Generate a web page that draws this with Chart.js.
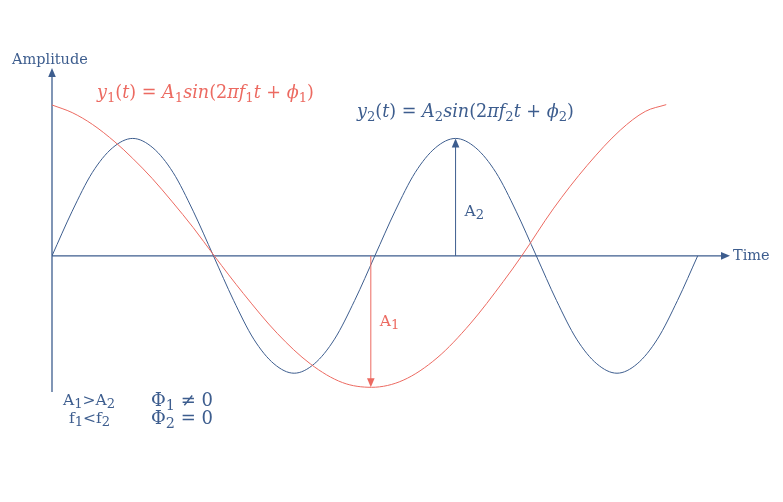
<!DOCTYPE html>
<html>
<head>
<meta charset="utf-8">
<title>Two sine waves</title>
<script src="https://cdn.jsdelivr.net/npm/chart.js@4/dist/chart.umd.min.js"></script>
<style>
  html, body { margin: 0; padding: 0; background: #fff; }
  #wrap { width: 783px; height: 502px; }
</style>
</head>
<body>
<div id="wrap"><canvas id="chartjsSine"></canvas></div>
<script>
'use strict';

// y2: blue wave, time in units where its period is 4
var blueT = [0, 0.25, 0.5, 0.75, 1, 1.25, 1.5, 1.75, 2, 2.25, 2.5, 2.75, 3, 3.25, 3.5, 3.75,
             4, 4.25, 4.5, 4.75, 5, 5.25, 5.5, 5.75, 6, 6.25, 6.5, 6.75, 7, 7.25, 7.5, 7.75, 8];
var blueY = [0, 0.38, 0.71, 0.92, 1, 0.92, 0.71, 0.38, 0, -0.38, -0.71, -0.92, -1, -0.92, -0.71, -0.38,
             0, 0.38, 0.71, 0.92, 1, 0.92, 0.71, 0.38, 0, -0.38, -0.71, -0.92, -1, -0.92, -0.71, -0.38, 0];

// y1: red wave
var redT = [0, 0.25, 0.5, 0.78, 1.0, 1.24, 1.49, 1.75, 2.01, 2.37, 2.79, 3.2, 3.6, 3.96,
            4.35, 4.77, 5.18, 5.59, 5.82, 6.21, 6.63, 7.04, 7.35, 7.61];
var redY = [1.285, 1.22, 1.12, 0.97, 0.83, 0.66, 0.46, 0.24, 0, -0.32, -0.66, -0.92, -1.08, -1.12,
            -1.06, -0.87, -0.58, -0.22, 0, 0.4, 0.77, 1.07, 1.23, 1.288];

// amplitude arrows: A1 (red trough), A2 (blue crest)
var markT = [3.95, 5];
var markY = [-1.12, 1];

// axis extent
var axisT = [0, 8.4];
var axisY = [-1.16, 1.6];

var BLUE = '#3d5d8e';
var RED = '#ec6a61';
var SERIF = '"DejaVu Serif", serif';

function pts(xs, ys) {
  return xs.map(function(x, i) { return { x: x, y: ys[i] }; });
}

function arrowHead(ctx, x, y, dx, dy, color) {
  // tip at (x,y), pointing along (dx,dy)
  var len = 9, half = 3.8;
  ctx.save();
  ctx.fillStyle = color;
  ctx.beginPath();
  ctx.moveTo(x, y);
  ctx.lineTo(x - dx * len - dy * half, y - dy * len + dx * half);
  ctx.lineTo(x - dx * len + dy * half, y - dy * len - dx * half);
  ctx.closePath();
  ctx.fill();
  ctx.restore();
}

function line(ctx, x1, y1, x2, y2, color, w) {
  ctx.save();
  ctx.strokeStyle = color;
  ctx.lineWidth = w;
  ctx.beginPath();
  ctx.moveTo(x1, y1);
  ctx.lineTo(x2, y2);
  ctx.stroke();
  ctx.restore();
}

// parts: [text, 'i' italic | 's' subscript | '' normal]
function rich(ctx, x, y, parts, size, color, subScale) {
  subScale = subScale || 0.75;
  ctx.save();
  ctx.fillStyle = color;
  ctx.textBaseline = 'alphabetic';
  ctx.textAlign = 'left';
  parts.forEach(function(p) {
    var sub = p[1].indexOf('s') >= 0;
    var ital = p[1].indexOf('i') >= 0;
    var fs = sub ? size * subScale : size;
    ctx.font = (ital ? 'italic ' : '') + fs + 'px ' + SERIF;
    ctx.fillText(p[0], x, sub ? y + size * 0.22 : y);
    x += ctx.measureText(p[0]).width;
  });
  ctx.restore();
  return x;
}

var eqParts = function(n) {
  return [['y', 'i'], [n, 's'], ['(', ''], ['t', 'i'], [')', ''], [' = ', ''],
          ['A', 'i'], [n, 's'], ['sin', 'i'], ['(2', ''], ['π', 'i'], ['f', 'i'], [n, 's'],
          ['t', 'i'], [' + ', ''], ['ϕ', 'i'], [n, 's'], [')', '']];
};

var decor = {
  id: 'decor',
  beforeDatasetsDraw: function(chart) {
    var ctx = chart.ctx, xs = chart.scales.x, ys = chart.scales.y;
    var x0 = xs.getPixelForValue(0), y0 = ys.getPixelForValue(0);
    var xEnd = xs.getPixelForValue(axisT[1]);
    var yTop = ys.getPixelForValue(axisY[1]), yBot = ys.getPixelForValue(axisY[0]);
    line(ctx, x0, yBot, x0, yTop + 4, BLUE, 1.3);
    arrowHead(ctx, x0, yTop, 0, -1, BLUE);
    line(ctx, x0, y0, xEnd - 4, y0, BLUE, 1.3);
    arrowHead(ctx, xEnd, y0, 1, 0, BLUE);
  },
  afterDatasetsDraw: function(chart) {
    var ctx = chart.ctx, xs = chart.scales.x, ys = chart.scales.y;
    var y0 = ys.getPixelForValue(0);
    // A1 arrow (red)
    var ax1 = xs.getPixelForValue(markT[0]), ay1 = ys.getPixelForValue(markY[0]);
    line(ctx, ax1, y0, ax1, ay1 - 4, RED, 1);
    arrowHead(ctx, ax1, ay1, 0, 1, RED);
    // A2 arrow (blue)
    var ax2 = xs.getPixelForValue(markT[1]), ay2 = ys.getPixelForValue(markY[1]);
    line(ctx, ax2, y0, ax2, ay2 + 4, BLUE, 1);
    arrowHead(ctx, ax2, ay2, 0, -1, BLUE);

    rich(ctx, ax1 + 9, 326, [['A', ''], ['1', 's']], 15.5, RED, 0.85);
    rich(ctx, ax2 + 9, 216, [['A', ''], ['2', 's']], 15.5, BLUE, 0.85);

    ctx.save();
    ctx.fillStyle = BLUE;
    ctx.font = '14.5px ' + SERIF;
    ctx.fillText('Amplitude', 12, 64);
    ctx.fillText('Time', 733, 260);
    ctx.restore();

    rich(ctx, 97, 98, eqParts('1'), 17.6, RED);
    rich(ctx, 357, 117, eqParts('2'), 17.6, BLUE);

    rich(ctx, 63, 405, [['A', ''], ['1', 's'], ['>', ''], ['A', ''], ['2', 's']], 15.5, BLUE, 0.85);
    rich(ctx, 69, 423, [['f', ''], ['1', 's'], ['<', ''], ['f', ''], ['2', 's']], 15.5, BLUE, 0.85);
    rich(ctx, 151, 406, [['Φ', ''], ['1', 's'], [' ≠ 0', '']], 18, BLUE, 0.8);
    rich(ctx, 151, 424, [['Φ', ''], ['2', 's'], [' = 0', '']], 18, BLUE, 0.8);
  }
};

new Chart(document.getElementById('chartjsSine'), {
  type: 'scatter',
  data: {
    datasets: [
      {
        label: 'y1',
        data: pts(redT, redY),
        showLine: true,
        borderColor: RED,
        borderWidth: 1,
        pointRadius: 0,
        cubicInterpolationMode: 'monotone'
      },
      {
        label: 'y2',
        data: pts(blueT, blueY),
        showLine: true,
        borderColor: BLUE,
        borderWidth: 1,
        pointRadius: 0,
        cubicInterpolationMode: 'monotone'
      }
    ]
  },
  options: {
    responsive: true,
    maintainAspectRatio: false,
    animation: false,
    layout: { padding: { left: 52, right: 53, top: 68, bottom: 110 } },
    plugins: { legend: { display: false }, tooltip: { enabled: false } },
    scales: {
      x: { type: 'linear', min: axisT[0], max: axisT[1], display: false },
      y: { type: 'linear', min: axisY[0], max: axisY[1], display: false }
    }
  },
  plugins: [decor]
});
</script>
</body>
</html>
